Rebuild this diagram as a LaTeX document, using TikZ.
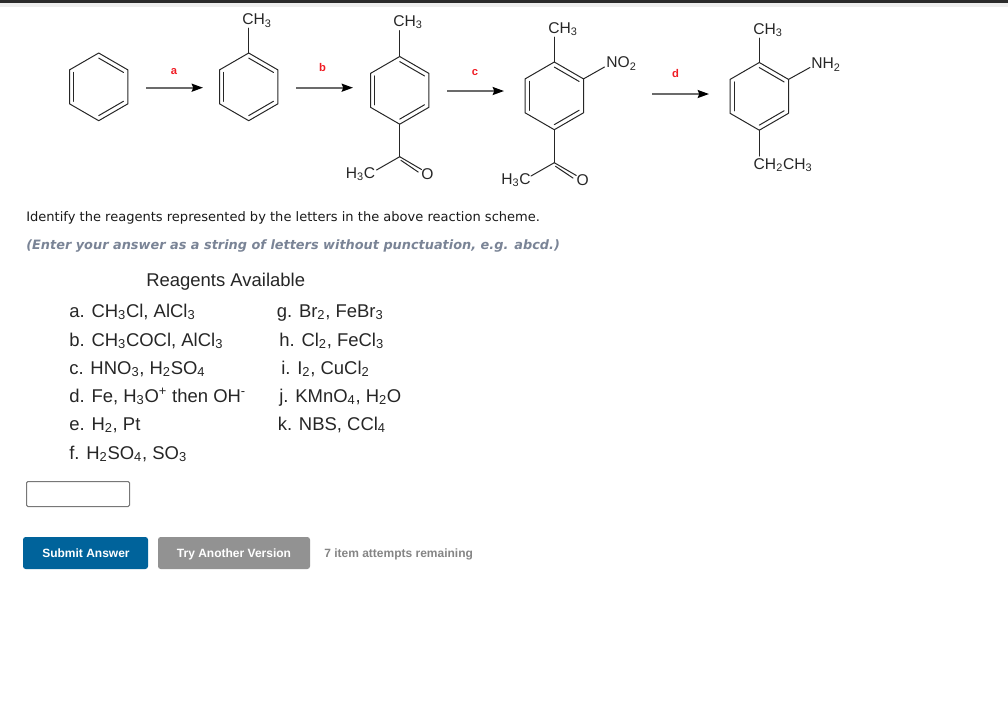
\documentclass[tikz,border=0pt]{standalone}
\usepackage{fontspec}
\setmainfont{Liberation Sans}
\newfontfamily\vfont{DejaVu Sans}
\usetikzlibrary{calc,arrows.meta}
\definecolor{barcol}{HTML}{2B2B2B}
\definecolor{barlight}{HTML}{EEEEEE}
\definecolor{hintcol}{HTML}{7A8496}
\definecolor{submitcol}{HTML}{00639B}
\definecolor{trycol}{HTML}{929292}
\definecolor{attemptcol}{HTML}{858585}
\definecolor{boxcol}{HTML}{777777}
\definecolor{rxnred}{HTML}{F01C24}
\newcommand{\sub}[1]{\textsubscript{#1}}
\newcommand{\ringat}[3]{%
  \coordinate (#1c) at (#2,#3+33.85);
  \coordinate (#1t) at (#2,#3);
  \coordinate (#1ur) at (#2+29.2,#3+16.9);
  \coordinate (#1lr) at (#2+29.2,#3+50.8);
  \coordinate (#1b) at (#2,#3+67.7);
  \coordinate (#1ll) at (#2-29.2,#3+50.8);
  \coordinate (#1ul) at (#2-29.2,#3+16.9);
  \draw[bond] (#1t)--(#1ur)--(#1lr)--(#1b)--(#1ll)--(#1ul)--cycle;
  \draw[bond] ($(#1c)!0.85!(#1t)$)--($(#1c)!0.85!(#1ur)$);
  \draw[bond] ($(#1c)!0.85!(#1lr)$)--($(#1c)!0.85!(#1b)$);
  \draw[bond] ($(#1c)!0.85!(#1ll)$)--($(#1c)!0.85!(#1ul)$);
}
\newcommand{\ketone}[1]{%
  \draw[bond] (#1b)--(#1k);
  \draw[bond] (#1k)--(#1m);
  \draw[bond] (#1k)--(#1o);
  \draw[bond] ($(#1k)+(1.2,3.6)$)--($(#1o)+(-3.2,2.6)$);
}
\tikzset{
  x=0.75pt,y=-0.75pt,
  bond/.style={line width=0.75pt,draw=black!85,line cap=round,line join=round},
  chem/.style={inner sep=0pt,text=black!85,font=\fontsize{11.7}{13}\selectfont},
  rxn/.style={line width=1.3pt,draw=black!58,-{Stealth[length=8.5pt,width=6pt,inset=1.2pt,black]}},
  rxnlab/.style={inner sep=0pt,text=rxnred,font=\bfseries\fontsize{8.4}{9}\selectfont},
  reagent/.style={anchor=base west,inner sep=0pt,text=black!85,font=\fontsize{13.85}{16}\selectfont},
  qtext/.style={anchor=base west,inner sep=0pt,font=\vfont\fontsize{9.78}{12}\selectfont},
  btn/.style={anchor=base,inner sep=0pt,text=white,font=\bfseries\fontsize{9}{11}\selectfont},
}
\begin{document}
\begin{tikzpicture}
\useasboundingbox (0,0) rectangle (1008,704);
\fill[barcol] (0,0) rectangle (1008,3);
\fill[barlight] (0,3) rectangle (1008,7);

% rings
\ringat{A}{98.7}{53}
\ringat{B}{248.7}{53}
\ringat{C}{399.7}{56.5}
\ringat{D}{554.3}{62}
\ringat{E}{759.3}{62.5}

% substituent labels
\node[chem] (Bme) at (257,20.5) {CH\sub{3}};
\coordinate (Bme1) at (248.7,28);
\draw[bond] (Bt)--(Bme1);

\node[chem] (Cme) at (408,22) {CH\sub{3}};
\coordinate (Cme1) at (399.7,30.5);
\draw[bond] (Ct)--(Cme1);
\coordinate (Ck) at (399.7,156.7);
\coordinate (Cm) at (376.5,170);
\coordinate (Co) at (421.5,169.5);
\node[chem] (CH3C) at (360.5,174) {H\sub{3}C};
\node[chem] (CO) at (427.5,174) {O};
\ketone{C}

\node[chem] (Dme) at (563,29) {CH\sub{3}};
\coordinate (Dme1) at (554.3,37);
\draw[bond] (Dt)--(Dme1);
\node[chem] (Dno) at (621.5,63.5) {NO\sub{2}};
\coordinate (Dno1) at (604.5,67);
\draw[bond] (Dur)--(Dno1);
\coordinate (Dk) at (554.3,162.7);
\coordinate (Dm) at (531,176);
\coordinate (Do) at (576.3,175.5);
\node[chem] (DH3C) at (516,180) {H\sub{3}C};
\node[chem] (DO) at (582.7,180) {O};
\ketone{D}

\node[chem] (Eme) at (768,30) {CH\sub{3}};
\coordinate (Eme1) at (759.3,38);
\draw[bond] (Et)--(Eme1);
\node[chem] (Enh) at (826,64.5) {NH\sub{2}};
\coordinate (Enh1) at (810,67.5);
\draw[bond] (Eur)--(Enh1);
\node[chem] (Eet) at (783,165) {CH\sub{2}CH\sub{3}};
\coordinate (Eet1) at (759.3,156);
\draw[bond] (Eb)--(Eet1);

% reaction arrows
\coordinate (a1) at (146,87.7); \coordinate (a2) at (203,87.7);
\coordinate (b1) at (296,87.7); \coordinate (b2) at (353,87.7);
\coordinate (c1) at (447,91);   \coordinate (c2) at (504,91);
\coordinate (d1) at (652,94);   \coordinate (d2) at (709,94);
\draw[rxn] (a1)--(a2);
\draw[rxn] (b1)--(b2);
\draw[rxn] (c1)--(c2);
\draw[rxn] (d1)--(d2);
\node[rxnlab] (la) at (174,72) {a};
\node[rxnlab] (lb) at (322.5,67.5) {b};
\node[rxnlab] (lc) at (475,73) {c};
\node[rxnlab] (ld) at (675.5,73) {d};

% question text
\node[qtext,text=black!90] (q1) at (26,221) {Identify the reagents represented by the letters in the above reaction scheme.};
\node[qtext,text=hintcol,font=\vfont\bfseries\itshape\fontsize{9.66}{12}\selectfont] (q2) at (26,249) {(Enter your answer as a string of letters without punctuation, e.g. abcd.)};

% reagents
\node[reagent] (rt) at (146,286) {Reagents Available};
\node[reagent] (ra) at (69,317) {a. CH\sub{3}Cl, AlCl\sub{3}};
\node[reagent] (rb) at (69,346) {b. CH\sub{3}COCl, AlCl\sub{3}};
\node[reagent] (rc) at (69,374) {c. HNO\sub{3}, H\sub{2}SO\sub{4}};
\node[reagent] (rd) at (69,402) {d. Fe, H\sub{3}O\textsuperscript{+} then OH\textsuperscript{-}};
\node[reagent] (re) at (69,430) {e. H\sub{2}, Pt};
\node[reagent] (rf) at (69,459) {f. H\sub{2}SO\sub{4}, SO\sub{3}};
\node[reagent] (rg) at (276.5,317) {g. Br\sub{2}, FeBr\sub{3}};
\node[reagent] (rh) at (279,346) {h. Cl\sub{2}, FeCl\sub{3}};
\node[reagent] (ri) at (281,374) {i. I\sub{2}, CuCl\sub{2}};
\node[reagent] (rj) at (279,402) {j. KMnO\sub{4}, H\sub{2}O};
\node[reagent] (rk) at (277.5,430) {k. NBS, CCl\sub{4}};

% answer box and buttons
\draw[boxcol,line width=0.75pt,rounded corners=1pt,fill=white] (26.5,481.5) rectangle (129.5,506.5);
\fill[submitcol,rounded corners=2pt] (23,537) rectangle (148,569);
\node[btn] (sub) at (86,557) {Submit Answer};
\fill[trycol,rounded corners=2pt] (158,537) rectangle (310,569);
\node[btn] (try) at (234,557) {Try Another Version};
\node[anchor=base west,inner sep=0pt,text=attemptcol,font=\bfseries\fontsize{9}{11}\selectfont] (att) at (324,557) {7 item attempts remaining};
\end{tikzpicture}
\end{document}
